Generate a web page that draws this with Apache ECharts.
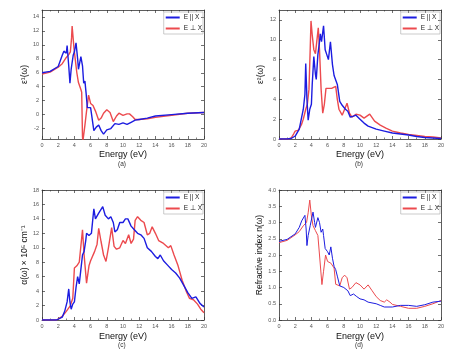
<!DOCTYPE html>
<html><head><meta charset="utf-8">
<script src="https://cdn.jsdelivr.net/npm/echarts@6/dist/echarts.min.js"></script>
<style>html,body{margin:0;padding:0;background:#fff}#c{width:474px;height:351px}</style>
</head><body><div id="c"></div>
<script>
// ---- Data ----
// (a) real part eps1
const aParE = [0,1,2,2.5,2.7,3.0,3.1,3.3,3.45,3.6,3.85,4.0,4.2,4.4,4.5,4.8,5.0,5.15,5.3,5.45,5.6,6.0,6.2,6.4,6.7,7.0,7.3,7.6,8.0,8.5,9,9.5,10,10.5,11,11.5,12,13,14,16,18,20];
const aParV = [6.0,6.2,6.9,8.5,9.1,8.8,9.9,7.0,4.5,6.5,8.5,9.0,10.3,8.0,6.5,8.3,7.0,4.5,4.8,3.0,1.0,1.0,0.8,-2.3,-1.8,-1.5,-2.3,-2.8,-2.2,-2.0,-1.3,-1.4,-1.2,-1.4,-1.1,-0.8,-0.7,-0.5,-0.2,0.0,0.2,0.3];
const aPerE = [0,1,2,2.5,3,3.3,3.5,3.65,3.72,3.95,4.1,4.3,4.5,4.8,4.9,5.0,5.05,5.3,5.5,5.75,6.0,6.3,6.6,7.0,7.3,7.6,8.0,8.4,8.8,9.2,9.5,10,10.5,10.8,11.2,11.5,12,13,14,16,18,20];
const aPerV = [5.8,6.1,6.8,7.3,8.2,8.6,9.0,11.0,12.7,9.5,8.0,6.0,4.6,3.6,3.2,-3.2,-3.8,-1.5,0.5,2.8,1.6,1.3,0.5,-0.8,-0.5,0.2,0.7,0.3,-1.0,-0.2,0.2,-0.1,0.1,0.1,-0.3,-0.7,-0.7,-0.6,-0.4,-0.1,0.2,0.3];
// (b) imaginary part eps2
const bParE = [0,1,1.5,2,2.5,2.8,3.0,3.2,3.3,3.45,3.6,3.8,4.0,4.1,4.3,4.5,4.6,4.8,5.0,5.1,5.25,5.5,5.7,5.9,6.1,6.35,6.6,6.8,7.0,7.2,7.5,7.8,8.2,8.5,8.8,9.2,9.5,10,10.5,11,12,13,14,15,16,17,18,19,20];
const bParV = [0,0,0.05,0.3,1.0,2.2,3.0,4.5,7.6,4.0,1.9,3.0,3.5,5.5,8.3,6.5,6.0,8.5,9.8,10.6,9.8,11.4,9.0,8.5,8.0,9.8,7.5,6.4,6.5,5.5,3.8,3.4,3.0,2.8,2.2,2.3,2.4,2.0,1.6,1.3,1.0,0.8,0.6,0.5,0.4,0.25,0.15,0.1,0.05];
const bPerE = [0,1.2,1.5,1.8,2.0,2.4,2.8,3.0,3.3,3.5,3.7,3.85,3.95,4.1,4.3,4.5,4.7,4.85,5.0,5.2,5.4,5.6,5.8,6.0,6.5,7.0,7.2,7.4,7.8,8.1,8.4,8.7,9.0,9.5,10,10.5,11.2,11.8,12.5,13.2,14,15,16,17,18,19,20];
const bPerV = [0,0,0.1,0.5,0.8,0.9,1.5,2.0,3.0,3.5,5.0,9.0,11.9,10.5,9.0,8.6,8.7,11.2,9.0,5.0,2.6,3.5,5.1,5.0,5.1,5.3,4.0,3.0,2.4,3.0,3.6,2.6,2.2,2.5,2.4,2.1,2.5,1.8,1.4,1.1,0.8,0.6,0.45,0.35,0.25,0.2,0.1];
// (c) absorption coefficient
const cParE = [0,1.8,2,2.5,2.8,3.1,3.3,3.45,3.6,3.8,4.0,4.2,4.4,4.6,4.8,5.0,5.2,5.4,5.5,5.8,6.1,6.4,6.6,6.8,7.0,7.2,7.5,7.8,8.2,8.5,8.8,9.0,9.3,9.6,10.0,10.3,10.6,11.0,11.4,11.8,12.2,12.6,13.0,13.5,14.0,14.3,14.6,15.0,15.5,16,16.5,17,17.5,18,18.5,19,19.5,20];
const cParV = [0,0,0.1,0.4,1.2,2.5,4.3,2.5,1.5,2.2,2.5,4.5,6.0,5.0,7.0,9.0,9.5,11.0,12.0,11.7,12.0,15.4,14.0,13.8,14.8,15.0,15.7,14.5,14.0,14.3,13.5,12.2,12.5,13.5,13.5,14.0,14.0,13.0,12.5,12.0,11.8,11.3,10.0,9.5,8.8,8.5,9.0,8.2,7.6,7.0,6.5,5.8,4.8,3.8,3.0,3.2,2.3,1.8];
const cPerE = [0,1.8,2,2.5,3,3.5,3.8,4.0,4.3,4.6,4.8,5.0,5.2,5.5,5.8,6.0,6.5,6.8,7.0,7.3,7.6,7.9,8.2,8.6,8.9,9.2,9.6,10,10.3,10.7,11,11.3,11.5,11.8,12.2,12.6,13.0,13.3,13.6,14,14.4,15,15.6,15.9,16.3,16.8,17.3,17.8,18.2,18.7,19.2,19.6,20];
const cPerV = [0,0,0.1,0.5,1.2,2.0,3.0,7.2,7.5,8.0,8.2,12.5,9.0,5.1,7.5,8.2,9.5,10.5,12.7,10.8,9.0,8.1,10.0,12.8,10.2,9.8,10.0,11.0,10.6,11.8,10.6,11.2,13.8,14.3,13.8,13.5,11.8,12.0,12.9,12.0,11.0,10.6,10.0,10.3,9.0,7.5,5.5,4.0,3.0,2.8,2.2,1.5,1.0];
// (d) refractive index
const dParE = [0,1,2,2.5,2.8,3.0,3.2,3.35,3.45,3.6,3.85,4.0,4.2,4.4,4.5,4.8,5.0,5.2,5.4,5.5,5.7,6.0,6.2,6.4,6.6,6.8,7.0,7.2,7.5,8.0,8.5,8.8,9.2,9.6,10,10.5,11,12,12.5,13,14,15,16,17,18,19,20];
const dParV = [2.42,2.48,2.65,2.85,3.05,3.1,3.22,2.8,2.29,2.6,2.9,2.95,3.32,3.0,2.85,3.15,3.0,2.7,2.8,2.6,2.2,2.1,2.0,2.25,1.9,1.65,1.55,1.35,1.05,1.0,0.9,0.75,0.8,0.72,0.65,0.62,0.55,0.5,0.45,0.4,0.4,0.45,0.45,0.42,0.47,0.55,0.58];
const dPerE = [0,1,2,2.5,3,3.4,3.6,3.8,4.0,4.2,4.5,4.8,5.0,5.3,5.5,5.75,6.0,6.4,6.8,7.0,7.5,7.8,8.1,8.4,8.7,9.0,9.5,10,10.5,11,11.5,12,12.5,13,13.3,13.7,14,15,16,17,18,19,20];
const dPerV = [2.38,2.45,2.62,2.72,2.9,3.0,3.3,3.69,3.2,2.9,2.75,2.6,2.0,1.09,1.5,2.0,1.8,1.75,1.6,1.1,1.05,1.3,1.38,1.3,0.95,1.0,1.15,1.08,0.95,1.08,0.9,0.72,0.6,0.55,0.62,0.55,0.48,0.42,0.36,0.36,0.42,0.5,0.6];
// tick labels
const xTicks = [0,2,4,6,8,10,12,14,16,18,20];
const aYTicks = [-2,0,2,4,6,8,10,12,14];
const bYTicks = [0,2,4,6,8,10,12];
const cYTicks = [0,2,4,6,8,10,12,14,16,18];
const dYTicks = [0,0.5,1.0,1.5,2.0,2.5,3.0,3.5,4.0];
const nameP = 'E || X', nameS = 'E \u22A5 X';

// ---- Build chart ----
const pairs = (xs, ys) => xs.map((x, i) => [x, ys[i]]);
const BLUE = '#1c1ce0', RED = '#ec4a4e';
const axisCol = '#333';
const grids = [
  {left: 42, top: 10, width: 162, height: 129},
  {left: 279, top: 10, width: 162, height: 129},
  {left: 42, top: 190, width: 162, height: 130},
  {left: 279, top: 190, width: 162, height: 130}
];
const yCfg = [
  {min: -3.5, max: 15, ticks: aYTicks, name: '\u03B5\u00B9(\u03C9)', gap: 12, fmt: v => String(v)},
  {min: 0, max: 13, ticks: bYTicks, name: '\u03B5\u00B2(\u03C9)', gap: 14, fmt: v => String(v)},
  {min: 0, max: 18, ticks: cYTicks, name: '\u03B1(\u03C9) \u00D7 10\u2075 cm\u207B\u00B9', gap: 13, fmt: v => String(v)},
  {min: 0, max: 4, ticks: dYTicks, name: 'Refractive index n(\u03C9)', gap: 13, fmt: v => v.toFixed(1)}
];
const xAxis = [], yAxis = [];
grids.forEach((g, i) => {
  const line = {show: true, onZero: false, lineStyle: {color: axisCol, width: 0.8}};
  xAxis.push({gridIndex: i, type: 'value', min: 0, max: 20, interval: 2, position: 'bottom',
    axisLine: line, axisTick: {inside: true, length: 3, customValues: xTicks, lineStyle: {color: axisCol, width: 0.7}},
    minorTick: {show: true, splitNumber: 2, length: 1.5, lineStyle: {color: axisCol, width: 0.6}},
    splitLine: {show: false},
    axisLabel: {fontSize: 5.5, color: '#555', margin: 3, customValues: xTicks, fontFamily: 'Liberation Sans'},
    name: 'Energy (eV)', nameLocation: 'middle', nameGap: i < 2 ? 11.5 : 12,
    nameTextStyle: {fontSize: 9, color: '#111', fontFamily: 'Liberation Sans'}});
  xAxis.push({gridIndex: i, type: 'value', min: 0, max: 20, interval: 2, position: 'top',
    axisLine: line, axisTick: {inside: true, length: 3, lineStyle: {color: axisCol, width: 0.7}},
    minorTick: {show: true, splitNumber: 2, length: 1.5, lineStyle: {color: axisCol, width: 0.6}},
    splitLine: {show: false}, axisLabel: {show: false}});
  const c = yCfg[i];
  yAxis.push({gridIndex: i, type: 'value', min: c.min, max: c.max, position: 'left',
    axisLine: line,
    axisTick: {inside: true, length: 3, customValues: c.ticks, lineStyle: {color: axisCol, width: 0.7}},
    splitLine: {show: false},
    axisLabel: {fontSize: 5.5, color: '#555', margin: 3, customValues: c.ticks, formatter: c.fmt, fontFamily: 'Liberation Sans'},
    name: c.name, nameLocation: 'middle', nameGap: c.gap,
    nameTextStyle: {fontSize: 8.5, color: '#111', fontFamily: 'Liberation Sans'}});
  yAxis.push({gridIndex: i, type: 'value', min: c.min, max: c.max, position: 'right',
    axisLine: line,
    axisTick: {inside: true, length: 3, customValues: c.ticks, lineStyle: {color: axisCol, width: 0.7}},
    splitLine: {show: false}, axisLabel: {show: false}});
});
const curves = [
  [aParE, aParV, aPerE, aPerV],
  [bParE, bParV, bPerE, bPerV],
  [cParE, cParV, cPerE, cPerV],
  [dParE, dParV, dPerE, dPerV]
];
const series = [];
curves.forEach((cv, i) => {
  const w = i === 3 ? 1.0 : 1.4;
  series.push({type: 'line', name: nameP, xAxisIndex: 2 * i, yAxisIndex: 2 * i, data: pairs(cv[0], cv[1]),
    showSymbol: false, symbol: 'none', lineStyle: {color: BLUE, width: w}, itemStyle: {color: BLUE}, z: 3});
  series.push({type: 'line', name: nameS, xAxisIndex: 2 * i, yAxisIndex: 2 * i, data: pairs(cv[2], cv[3]),
    showSymbol: false, symbol: 'none', lineStyle: {color: RED, width: w}, itemStyle: {color: RED}, z: 2});
});
const legend = grids.map(g => ({
  data: [nameP, nameS], orient: 'vertical', right: 474 - (g.left + g.width) + 1, top: g.top + 2,
  itemWidth: 14, itemHeight: 2, itemGap: 4, icon: 'rect', padding: [2, 1, 2, 2],
  borderColor: '#aaa', borderWidth: 0.6, selectedMode: false,
  textStyle: {fontSize: 6.5, color: '#222', fontFamily: 'Liberation Sans', padding: [0, 0, 0, -1]}
}));
const labels = ['(a)', '(b)', '(c)', '(d)'];
const graphic = grids.map((g, i) => ({
  type: 'text', left: g.left + g.width / 2 - 5, top: g.top + g.height + 22,
  style: {text: labels[i], fontSize: 6.5, fill: '#333', fontFamily: 'Liberation Sans'}
}));
const chart = echarts.init(document.getElementById('c'), null, {renderer: 'canvas'});
chart.setOption({animation: false, backgroundColor: '#fff', grid: grids, xAxis, yAxis, series, legend, graphic});
</script></body></html>
